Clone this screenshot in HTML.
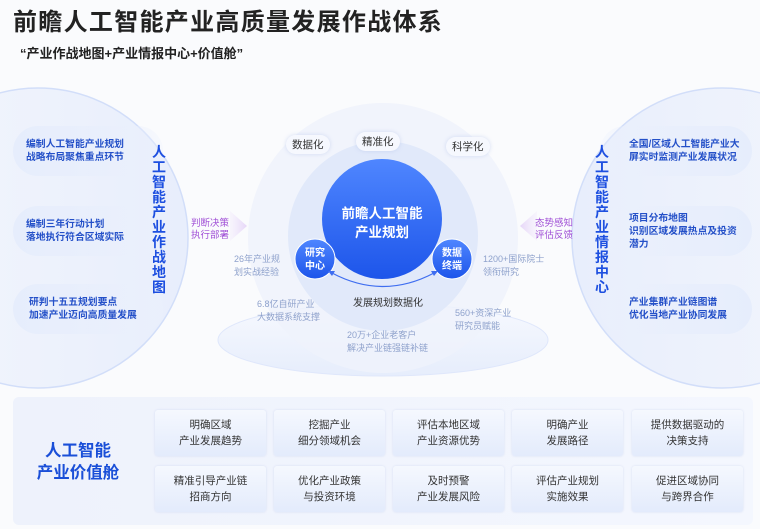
<!DOCTYPE html>
<html><head><meta charset="utf-8"><style>
*{margin:0;padding:0;box-sizing:border-box}
body{width:760px;height:529px;background:#fafbfd;position:relative;overflow:hidden;font-family:"Liberation Sans","Noto Sans CJK SC",sans-serif}
.a{position:absolute}
.t{white-space:nowrap}
.pill{position:absolute;height:50px;border-radius:25px;background:linear-gradient(90deg,#e6edfc,rgba(236,241,253,0.3));color:#2450c8;font-size:9.8px;font-weight:bold;line-height:13px;display:flex;flex-direction:column;justify-content:center;white-space:nowrap}
.vt{position:absolute;width:18px;font-size:14px;font-weight:bold;color:#1d4fe0;line-height:15px;text-align:center}
.g{position:absolute;font-size:9px;color:#8fa2cc;line-height:13px;white-space:nowrap}
.box{position:absolute;width:111px;height:46px;border-radius:3px;background:linear-gradient(180deg,#f5f8fe,#e3ebfc);color:#333;font-size:10.5px;line-height:16px;text-align:center;display:flex;flex-direction:column;justify-content:center;box-shadow:0 0 2px rgba(150,170,220,0.3)}
.tag{position:absolute;background:#f6f8fe;border-radius:10px;font-size:10.5px;color:#333;padding:2px 6px;box-shadow:0 0 4px rgba(160,180,230,0.4)}
</style></head><body>
<div class="a t" style="left:13px;top:2px;font-size:24px;font-weight:bold;color:#222;letter-spacing:1.3px">前瞻人工智能产业高质量发展作战体系</div>
<div class="a t" style="left:20px;top:43px;font-size:13px;font-weight:bold;color:#222">“产业作战地图+产业情报中心+价值舱”</div>

<svg class="a" style="left:0;top:0" width="760" height="529">
<defs>
<linearGradient id="lc" x1="0" x2="1"><stop offset="0" stop-color="#f3f6fd"/><stop offset="1" stop-color="#e8eefc"/></linearGradient>
<linearGradient id="rc" x1="1" x2="0"><stop offset="0" stop-color="#f3f6fd"/><stop offset="1" stop-color="#e8eefc"/></linearGradient>
<linearGradient id="bc" x1="0" y1="0" x2="0" y2="1"><stop offset="0" stop-color="#4f86ff"/><stop offset="1" stop-color="#1d55ea"/></linearGradient>
<linearGradient id="el" x1="0" y1="0" x2="0" y2="1"><stop offset="0" stop-color="#f7f9fe"/><stop offset="1" stop-color="#e6edfc"/></linearGradient>
<linearGradient id="pa" x1="0" x2="1"><stop offset="0" stop-color="#f0e6fb" stop-opacity="0.3"/><stop offset="1" stop-color="#e6d6f8"/></linearGradient>
<linearGradient id="pb" x1="1" x2="0"><stop offset="0" stop-color="#f0e6fb" stop-opacity="0.3"/><stop offset="1" stop-color="#e6d6f8"/></linearGradient>
</defs>
<circle cx="38" cy="238" r="150" fill="url(#lc)" stroke="#d2def9" stroke-width="1.5"/>
<circle cx="722" cy="238" r="150" fill="url(#rc)" stroke="#d2def9" stroke-width="1.5"/>
<ellipse cx="383" cy="340" rx="165" ry="36" fill="url(#el)" stroke="#dfe7fb"/>
<circle cx="383" cy="238" r="135" fill="#eef2fc" opacity="0.85"/>
<circle cx="383" cy="236" r="95" fill="#e1e9fa"/>
<circle cx="382" cy="219" r="60" fill="url(#bc)"/>
<circle cx="315" cy="259" r="20" fill="url(#bc)" stroke="#fff" stroke-width="1"/>
<circle cx="452" cy="259" r="20" fill="url(#bc)" stroke="#fff" stroke-width="1"/>
<path d="M332 273 Q383 300 434 273" fill="none" stroke="#3f6ef0" stroke-width="1.2"/>
<path d="M328 271 l7 0 l-3 5z" fill="#3f6ef0"/>
<path d="M438 271 l-7 0 l3 5z" fill="#3f6ef0"/>
<polygon points="230,211 247,226 230,241" fill="url(#pa)"/>
<polygon points="537,211 520,226 537,241" fill="url(#pb)"/>
</svg>

<div class="pill" style="left:13px;top:126px;width:150px;padding-left:13px">编制人工智能产业规划<br>战略布局聚焦重点环节</div>
<div class="pill" style="left:13px;top:206px;width:150px;padding-left:13px">编制三年行动计划<br>落地执行符合区域实际</div>
<div class="pill" style="left:13px;top:284px;width:150px;padding-left:16px">研判十五五规划要点<br>加速产业迈向高质量发展</div>
<div class="vt" style="left:150px;top:145px">人工智能产业作战地图</div>
<div class="a t" style="left:191px;top:218px;font-size:9.5px;color:#a04fd6;line-height:12px">判断决策<br>执行部署</div>

<div class="pill" style="left:600px;top:126px;width:152px;padding-left:29px;background:linear-gradient(270deg,#e6edfc,rgba(236,241,253,0.3))">全国/区域人工智能产业大<br>屏实时监测产业发展状况</div>
<div class="pill" style="left:600px;top:206px;width:152px;padding-left:29px;background:linear-gradient(270deg,#e6edfc,rgba(236,241,253,0.3))">项目分布地图<br>识别区域发展热点及投资<br>潜力</div>
<div class="pill" style="left:600px;top:284px;width:152px;padding-left:29px;background:linear-gradient(270deg,#e6edfc,rgba(236,241,253,0.3))">产业集群产业链图谱<br>优化当地产业协同发展</div>
<div class="vt" style="left:593px;top:145px">人工智能产业情报中心</div>
<div class="a t" style="left:535px;top:218px;font-size:9.5px;color:#a04fd6;line-height:12px">态势感知<br>评估反馈</div>

<div class="tag" style="left:286px;top:135px">数据化</div>
<div class="tag" style="left:356px;top:132px">精准化</div>
<div class="tag" style="left:446px;top:137px">科学化</div>
<div class="a t" style="left:322px;top:204px;width:120px;text-align:center;color:#fff;font-size:13.5px;font-weight:bold;line-height:19px">前瞻人工智能<br>产业规划</div>
<div class="a t" style="left:295px;top:247px;width:40px;text-align:center;color:#fff;font-size:10px;font-weight:bold;line-height:13px">研究<br>中心</div>
<div class="a t" style="left:432px;top:247px;width:40px;text-align:center;color:#fff;font-size:10px;font-weight:bold;line-height:13px">数据<br>终端</div>
<div class="a t" style="left:353px;top:294px;font-size:10px;color:#333">发展规划数据化</div>
<div class="g" style="left:234px;top:253px">26年产业规<br>划实战经验</div>
<div class="g" style="left:483px;top:253px">1200+国际院士<br>领衔研究</div>
<div class="g" style="left:257px;top:298px">6.8亿自研产业<br>大数据系统支撑</div>
<div class="g" style="left:455px;top:307px">560+资深产业<br>研究员赋能</div>
<div class="g" style="left:347px;top:329px">20万+企业老客户<br>解决产业链强链补链</div>

<div class="a" style="left:13px;top:397px;width:740px;height:128px;border-radius:6px;background:linear-gradient(90deg,#eef2fc,#f4f7fe)"></div>
<div class="a t" style="left:28px;top:440px;width:100px;text-align:center;font-size:16.5px;font-weight:bold;color:#1a4fd8;line-height:22px">人工智能<br>产业价值舱</div>
<div class="box" style="left:155px;top:410px">明确区域<br>产业发展趋势</div>
<div class="box" style="left:274px;top:410px">挖掘产业<br>细分领域机会</div>
<div class="box" style="left:393px;top:410px">评估本地区域<br>产业资源优势</div>
<div class="box" style="left:512px;top:410px">明确产业<br>发展路径</div>
<div class="box" style="left:632px;top:410px">提供数据驱动的<br>决策支持</div>
<div class="box" style="left:155px;top:466px">精准引导产业链<br>招商方向</div>
<div class="box" style="left:274px;top:466px">优化产业政策<br>与投资环境</div>
<div class="box" style="left:393px;top:466px">及时预警<br>产业发展风险</div>
<div class="box" style="left:512px;top:466px">评估产业规划<br>实施效果</div>
<div class="box" style="left:632px;top:466px">促进区域协同<br>与跨界合作</div>
</body></html>
